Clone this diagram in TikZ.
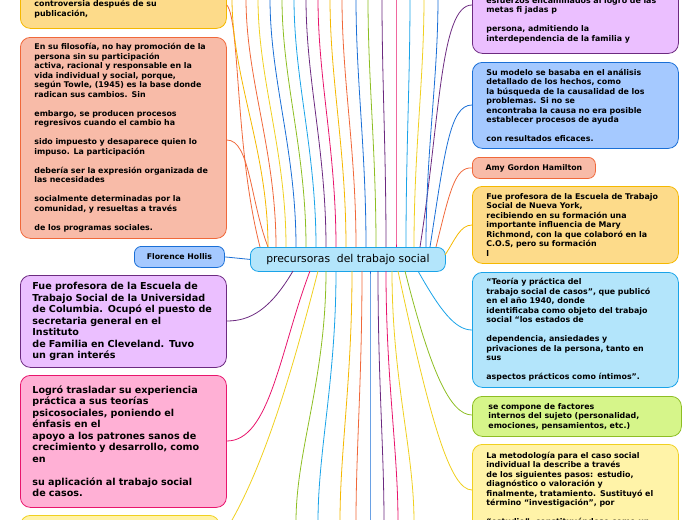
\documentclass[tikz,border=0pt]{standalone}
\usepackage{fontspec}
\setmainfont{DejaVu Sans}
\usetikzlibrary{positioning}
\definecolor{ylwF}{HTML}{FDDB8A}\definecolor{ylwD}{HTML}{F5B800}
\definecolor{salF}{HTML}{F8BBA8}\definecolor{salD}{HTML}{F0683A}
\definecolor{bluF}{HTML}{A5C9FF}\definecolor{bluD}{HTML}{1A6FD6}
\definecolor{purF}{HTML}{EBBFFF}\definecolor{purD}{HTML}{6C2A80}
\definecolor{pnkF}{HTML}{FFB0D5}\definecolor{pnkD}{HTML}{E8156C}
\definecolor{cyaF}{HTML}{B3E5FB}\definecolor{cyaD}{HTML}{1AA3E8}
\definecolor{grnF}{HTML}{D6F58A}\definecolor{grnD}{HTML}{8DBE23}
\definecolor{lylF}{HTML}{FFF3A8}\definecolor{lylD}{HTML}{F0D020}
\begin{document}
\begin{tikzpicture}[x=1pt,y=-1pt]
  \tikzstyle{box}=[draw, thick, rounded corners=10pt, anchor=north west, align=left,
    inner xsep=14pt, inner ysep=6pt, font=\bfseries\fontsize{7.9}{9.5}\selectfont]
  \tikzstyle{bigbox}=[box, inner xsep=12pt, font=\bfseries\fontsize{9.6}{11.5}\selectfont]
  \tikzstyle{tag}=[draw, thick, rounded corners=7pt, anchor=north west,
    minimum height=21pt, font=\bfseries\fontsize{7.8}{8}\selectfont]
  \tikzstyle{link}=[thick]
  \useasboundingbox (0,0) rectangle (697,520);
  \clip (0,0) rectangle (697,520);

  \node (root) [draw=cyaD, fill=cyaF, thick, rounded corners=8pt, anchor=north west,
    minimum width=195pt, minimum height=24pt, font=\fontsize{10.8}{12}\selectfont] at (250,247)
    {precursoras\ \ del trabajo social};

  % rama izquierda
  \node (topY) [box, draw=ylwD, fill=ylwF, text width=178pt, minimum height=42pt] at (20,-14)
    {\\ controversia después de su\\ publicación,};
  \node (filo) [box, draw=salD, fill=salF, text width=178pt, minimum height=201pt] at (20,37)
    {En su filosofía, no hay promoción de la\\ persona sin su participación\\
     activa, racional y responsable en la\\ vida individual y social, porque,\\
     según Towle, (1945) es la base donde\\ radican sus cambios. Sin\\[9.5pt]
     embargo, se producen procesos\\ regresivos cuando el cambio ha\\[9.5pt]
     sido impuesto y desaparece quien lo\\ impuso. La participación\\[9.5pt]
     debería ser la expresión organizada de\\ las necesidades\\[9.5pt]
     socialmente determinadas por la\\ comunidad, y resueltas a través\\[9.5pt]
     de los programas sociales.};
  \node (hollis) [tag, draw=bluD, fill=bluF, minimum width=90pt] at (134,246) {Florence Hollis};
  \node (colum) [bigbox, draw=purD, fill=purF, text width=182pt, minimum height=92pt] at (20,275)
    {Fue profesora de la Escuela de\\ Trabajo Social de la Universidad\\
     de Columbia. Ocupó el puesto de\\ secretaria general en el\\ Instituto\\
     de Familia en Cleveland. Tuvo\\ un gran interés};
  \node (logro) [bigbox, draw=pnkD, fill=pnkF, text width=182pt, minimum height=132pt] at (20,375)
    {Logró trasladar su experiencia\\ práctica a sus teorías\\ psicosociales, poniendo el\\
     énfasis en el\\ apoyo a los patrones sanos de\\ crecimiento y desarrollo, como\\ en\\[11.5pt]
     su aplicación al trabajo social\\ de casos.};
  \node (botY) [box, draw=lylD, fill=lylF, text width=171pt, minimum height=40pt] at (20,515) {};

  % rama derecha
  \node (esfu) [box, draw=purD, fill=purF, text width=178pt, minimum height=70pt] at (472,-17)
    {\\ esfuerzos encaminados al logro de las\\ metas fi jadas p\\[9.5pt]
     persona, admitiendo la\\ interdependencia de la familia y};
  \node (model) [box, draw=bluD, fill=bluF, text width=178pt, minimum height=86pt] at (472,62)
    {Su modelo se basaba en el análisis\\ detallado de los hechos, como\\
     la búsqueda de la causalidad de los\\ problemas. Si no se\\
     encontraba la causa no era posible\\ establecer procesos de ayuda\\[9.5pt]
     con resultados eficaces.};
  \node (amy) [tag, draw=salD, fill=salF, minimum width=123pt] at (472,157) {Amy Gordon Hamilton};
  \node (nyork) [box, draw=ylwD, fill=ylwF, text width=178pt, minimum height=77pt] at (472,186)
    {Fue profesora de la Escuela de Trabajo\\ Social de Nueva York,\\
     recibiendo en su formación una\\ importante influencia de Mary\\
     Richmond, con la que colaboró en la\\ C.O.S, pero su formación\\ l};
  \node (teoria) [box, draw=cyaD, fill=cyaF, text width=178pt, minimum height=115pt] at (472,272)
    {“Teoría y práctica del\\ trabajo social de casos”, que publicó\\ en el año 1940, donde\\
     identificaba como objeto del trabajo\\ social “los estados de\\[9.5pt]
     dependencia, ansiedades y\\ privaciones de la persona, tanto en\\ sus\\[9.5pt]
     aspectos prácticos como íntimos”.};
  \node (factor) [box, draw=grnD, fill=grnF, text width=177pt, minimum height=40pt, inner xsep=16pt] at (472,396)
    {se compone de factores\\ internos del sujeto (personalidad,\\ emociones, pensamientos, etc.)};
  \node (metodo) [box, draw=lylD, fill=lylF, text width=178pt, minimum height=90pt] at (472,444)
    {La metodología para el caso social\\ individual la describe a través\\
     de los siguientes pasos: estudio,\\ diagnóstico o valoración y\\
     finalmente, tratamiento. Sustituyó el\\ término “investigación”, por\\[9.5pt]
     “estudio”, constituyéndose como un};

  % conectores a nodos
  \draw [link, salD] (268,247) .. controls (250,200) and (250,140) .. (filo.east |- 0,140);
  \draw [link, salD] (260,247) .. controls (235,150) and (240,20) .. (topY.east |- 0,5);
  \draw [link, bluD] (root.west) -- (hollis.east);
  \draw [link, purD] (293,271) .. controls (270,310) and (250,321) .. (colum.east |- 0,321);
  \draw [link, pnkD] (310,271) .. controls (280,350) and (270,441) .. (logro.east |- 0,441);
  \draw [link, purD] (420,247) .. controls (440,120) and (440,5) .. (esfu.west |- 0,5);
  \draw [link, bluD] (430,247) .. controls (445,150) and (450,105) .. (model.west |- 0,105);
  \draw [link, salD] (436,247) .. controls (450,190) and (455,167) .. (amy.west);
  \draw [link, ylwD] (445,255) .. controls (455,240) and (460,225) .. (nyork.west |- 0,225);
  \draw [link, cyaD] (418,271) .. controls (440,310) and (455,330) .. (teoria.west |- 0,330);
  \draw [link, grnD] (405,271) .. controls (430,370) and (450,415) .. (factor.west |- 0,415);
  \draw [link, lylD] (398,271) .. controls (430,420) and (450,490) .. (metodo.west |- 0,490);
  \draw [link, lylD] (318,271) .. controls (290,380) and (260,480) .. (botY.east |- 0,540);

  % conectores hacia ramas fuera del cuadro
  \foreach \c/\a/\b in {ylwD/268/232, salD/276/246, lylD/286/258, bluD/296/270, grnD/306/282,
      cyaD/316/294, purD/326/306, pnkD/336/318, ylwD/346/330, salD/356/342, bluD/366/356,
      grnD/376/368, purD/386/382, pnkD/396/396, cyaD/406/410, lylD/414/424, bluD/426/438}
    \draw [link, \c] (\a,247) .. controls (\a,150) and (\b,80) .. (\b,-2);
  \foreach \c/\a/\b in {grnD/326/296, cyaD/336/318, ylwD/352/340, salD/362/356, bluD/370/370,
      purD/378/384, pnkD/386/398, lylD/392/414}
    \draw [link, \c] (\a,271) .. controls (\a,380) and (\b,450) .. (\b,522);
\end{tikzpicture}
\end{document}
